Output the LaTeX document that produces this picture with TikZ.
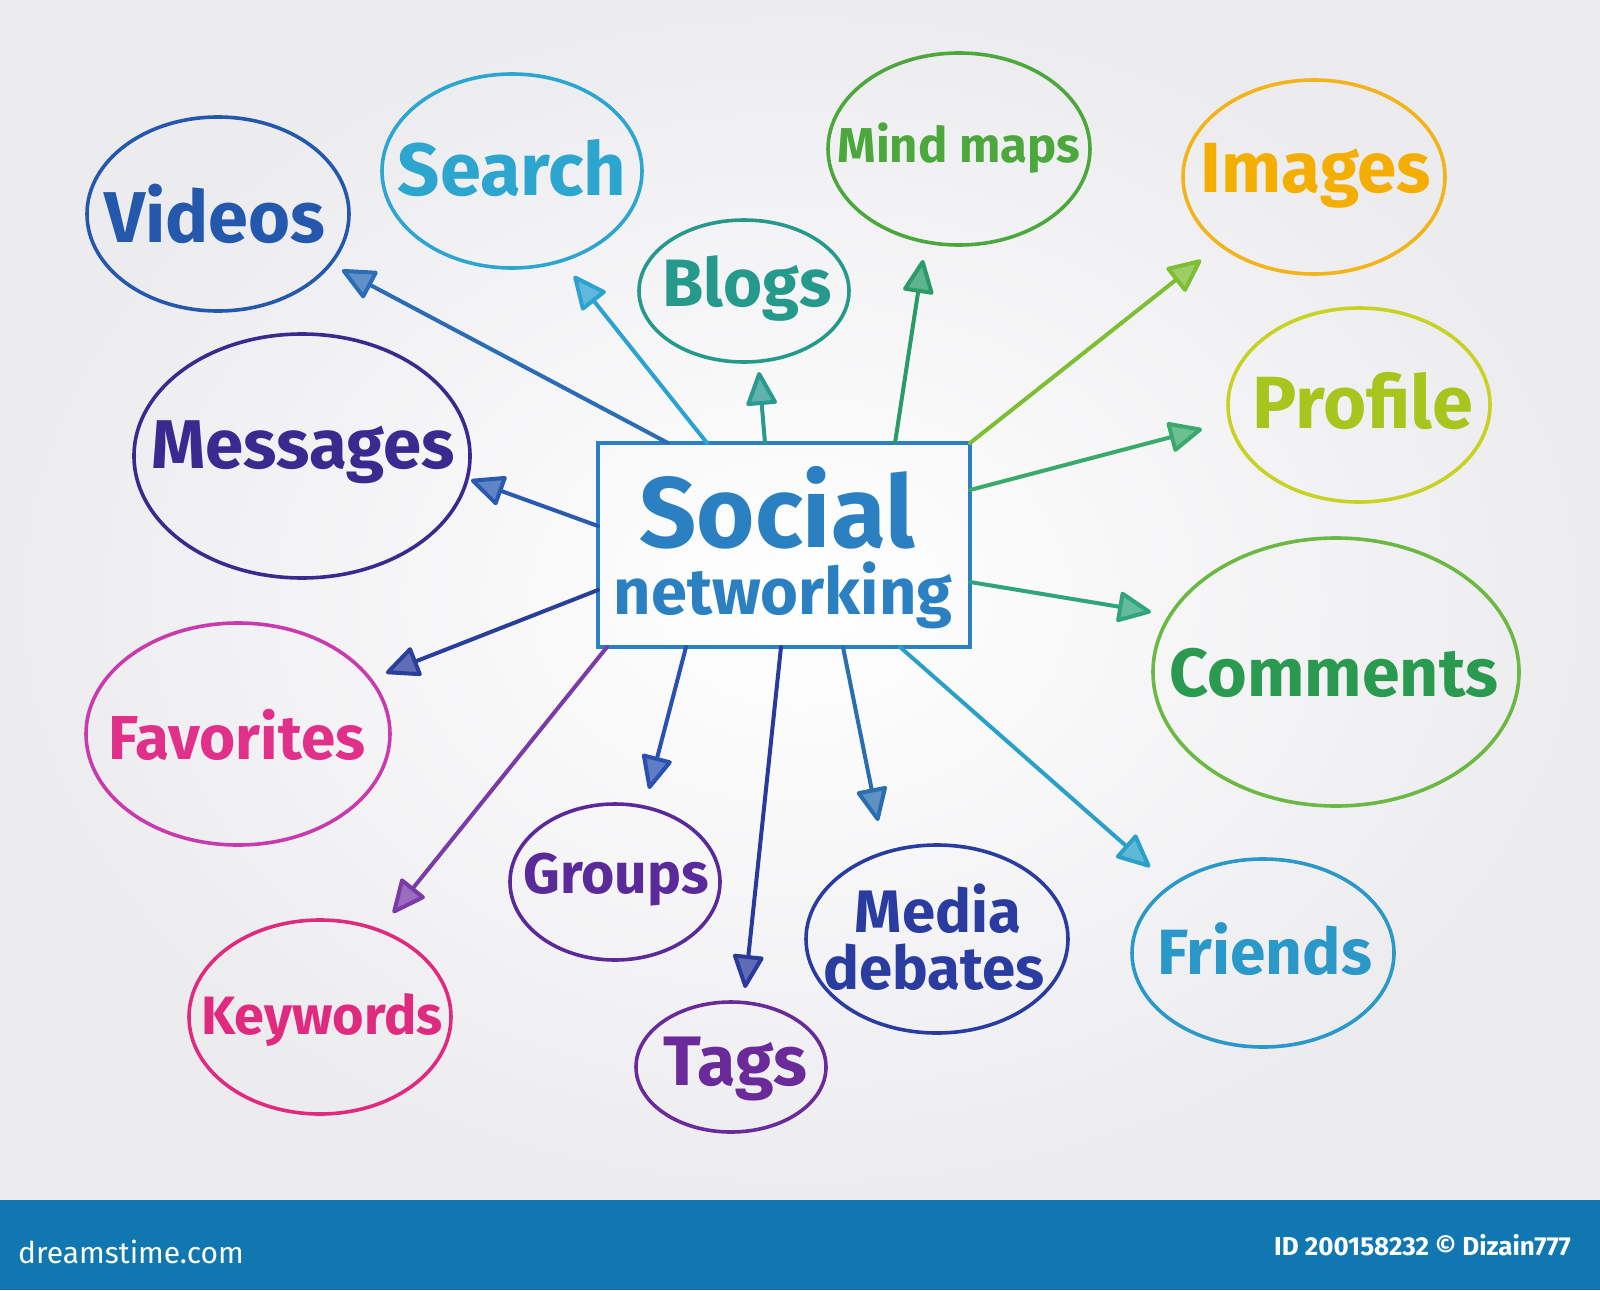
\documentclass[tikz,border=0pt]{standalone}
\usepackage{fontspec}
\setmainfont{Fira Sans}
\usetikzlibrary{shapes.geometric,arrows.meta}
\definecolor{bg}{HTML}{ECECEF}
\definecolor{bar}{HTML}{1177B0}
\definecolor{cVid}{HTML}{2458AC}
\definecolor{cSea}{HTML}{2CA6CF}
\definecolor{cBlo}{HTML}{25998C}
\definecolor{cMin}{HTML}{4CA83C}
\definecolor{cImg}{HTML}{F4AE00}
\definecolor{cImgE}{HTML}{F2B41A}
\definecolor{cPro}{HTML}{A6C61E}
\definecolor{cProE}{HTML}{C8D224}
\definecolor{cCom}{HTML}{2A9A50}
\definecolor{cComE}{HTML}{6CB844}
\definecolor{cFri}{HTML}{2A98C8}
\definecolor{cMed}{HTML}{2A3CA0}
\definecolor{cTag}{HTML}{6A2A9A}
\definecolor{cGro}{HTML}{5A2A9A}
\definecolor{cKey}{HTML}{E02A80}
\definecolor{cFav}{HTML}{E0308A}
\definecolor{cFavE}{HTML}{C83AAE}
\definecolor{cMes}{HTML}{3A2A90}
\definecolor{cCen}{HTML}{2A80C0}
\tikzset{
  bub/.style n args={3}{ellipse, draw=#1, line width=3.6pt, minimum width=#2, minimum height=#3, inner sep=0pt},
  lbl/.style 2 args={text=#1, font=\fontsize{#2}{#2}\selectfont\bfseries, inner sep=0pt, align=center},
  arr/.style={draw=#1, line width=4pt, line cap=round, line join=round,
     -{Triangle[length=36pt,width=32pt,fill=#1!75!white,line join=round]}},
}
\begin{document}
\begin{tikzpicture}[x=1pt,y=-1pt]
\useasboundingbox (0,0) rectangle (1600,1290);
\shade[inner color=white, outer color=bg] (0,0) rectangle (1600,1200);
\fill[bar] (0,1200) rectangle (1600,1290);
\node[text=white, font=\fontsize{30}{30}\selectfont, anchor=west, inner sep=0pt] (ds) at (18,1252) {dreamstime.com};
\node[text=white, font=\fontsize{26}{26}\selectfont\bfseries, anchor=east, inner sep=0pt] (id) at (1571,1245) {ID 200158232 © Dizain777};

% central box
\node[draw=cCen, line width=3.4pt, minimum width=372pt, minimum height=204pt, inner sep=0pt] (box) at (784,545) {};
\node[lbl={cCen}{100}] (social) at (777,508) {Social};
\node[lbl={cCen}{65}] (netw) at (783,595) {networking};

% bubbles
\node[bub={cVid}{262pt}{194pt}] (videos) at (218,214) {};
\node[bub={cSea}{260pt}{194pt}] (search) at (512,171) {};
\node[bub={cBlo}{210pt}{142pt}] (blogs) at (744,291) {};
\node[bub={cMin}{262pt}{192pt}] (mind) at (959,149) {};
\node[bub={cImgE}{262pt}{194pt}] (images) at (1314,177) {};
\node[bub={cMes}{336pt}{244pt}] (messages) at (302,456) {};
\node[bub={cProE}{262pt}{194pt}] (profile) at (1359,405) {};
\node[bub={cComE}{366pt}{268pt}] (comments) at (1336,672) {};
\node[bub={cFavE}{304pt}{222pt}] (favorites) at (238,734) {};
\node[bub={cGro}{210pt}{156pt}] (groups) at (615,882) {};
\node[bub={cMed}{262pt}{188pt}] (media) at (937,939) {};
\node[bub={cFri}{262pt}{188pt}] (friends) at (1263,953) {};
\node[bub={cKey}{262pt}{194pt}] (keywords) at (320,1017) {};
\node[bub={cTag}{190pt}{130pt}] (tags) at (731,1067) {};

% bubble texts
\node[lbl={cVid}{72}] (videosT) at (215,214) {Videos};
\node[lbl={cSea}{74}] (searchT) at (512,168) {Search};
\node[lbl={cBlo}{67}] (blogsT) at (747,289) {Blogs};
\node[lbl={cMin}{49}] (mindT) at (959,148) {Mind maps};
\node[lbl={cImg}{71}] (imagesT) at (1316,176) {Images};
\node[lbl={cMes}{69}] (messagesT) at (303,452) {Messages};
\node[lbl={cPro}{74}] (profileT) at (1363,401) {Profile};
\node[lbl={cCom}{68}] (commentsT) at (1334,673) {Comments};
\node[lbl={cFav}{62}] (favoritesT) at (237,735) {Favorites};
\node[lbl={cGro}{57}] (groupsT) at (616,880) {Groups};
\node[lbl={cMed}{60}] (mediaT1) at (938,909) {Media};
\node[lbl={cMed}{60}] (mediaT2) at (934,967) {debates};
\node[lbl={cFri}{64}] (friendsT) at (1265,949) {Friends};
\node[lbl={cKey}{54}] (keywordsT) at (322,1020) {Keywords};
\node[lbl={cTag}{70}] (tagsT) at (735,1069) {Tags};

% arrow start and tip coordinates
\coordinate (sVid) at (668,443);  \coordinate (tVid) at (342,270);
\coordinate (sSea) at (707,443);  \coordinate (tSea) at (574,276);
\coordinate (sBlo) at (765,443);  \coordinate (tBlo) at (759,372);
\coordinate (sMin) at (895,443);  \coordinate (tMin) at (923,260);
\coordinate (sImg) at (970,443);  \coordinate (tImg) at (1201,260);
\coordinate (sPro) at (970,490);  \coordinate (tPro) at (1202,429);
\coordinate (sMes) at (598,526);  \coordinate (tMes) at (471,480);
\coordinate (sCom) at (970,582);  \coordinate (tCom) at (1151,612);
\coordinate (sFav) at (598,590);  \coordinate (tFav) at (386,673);
\coordinate (sKey) at (607,647);  \coordinate (tKey) at (393,913);
\coordinate (sGro) at (686,647);  \coordinate (tGro) at (649,789);
\coordinate (sTag) at (781,647);  \coordinate (tTag) at (745,988);
\coordinate (sMed) at (843,647);  \coordinate (tMed) at (878,821);
\coordinate (sFri) at (900,647);  \coordinate (tFri) at (1150,867);

\definecolor{aVid}{HTML}{2A6CB6}
\definecolor{aSea}{HTML}{2AA2D2}
\definecolor{aBlo}{HTML}{2A9A90}
\definecolor{aMin}{HTML}{2A9A68}
\definecolor{aImg}{HTML}{7EBE32}
\definecolor{aPro}{HTML}{3AAA6C}
\definecolor{aMes}{HTML}{2A5AB0}
\definecolor{aCom}{HTML}{30A47E}
\definecolor{aFav}{HTML}{2A3E9C}
\definecolor{aKey}{HTML}{7A3AA8}
\definecolor{aGro}{HTML}{2A50B0}
\definecolor{aTag}{HTML}{2A3A9A}
\definecolor{aMed}{HTML}{2A6EB0}
\definecolor{aFri}{HTML}{2AA0C8}

\draw[arr=aVid] (sVid) -- (tVid);
\draw[arr=aSea] (sSea) -- (tSea);
\draw[arr=aBlo] (sBlo) -- (tBlo);
\draw[arr=aMin] (sMin) -- (tMin);
\draw[arr=aImg] (sImg) -- (tImg);
\draw[arr=aPro] (sPro) -- (tPro);
\draw[arr=aMes] (sMes) -- (tMes);
\draw[arr=aCom] (sCom) -- (tCom);
\draw[arr=aFav] (sFav) -- (tFav);
\draw[arr=aKey] (sKey) -- (tKey);
\draw[arr=aGro] (sGro) -- (tGro);
\draw[arr=aTag] (sTag) -- (tTag);
\draw[arr=aMed] (sMed) -- (tMed);
\draw[arr=aFri] (sFri) -- (tFri);
\end{tikzpicture}
\end{document}
